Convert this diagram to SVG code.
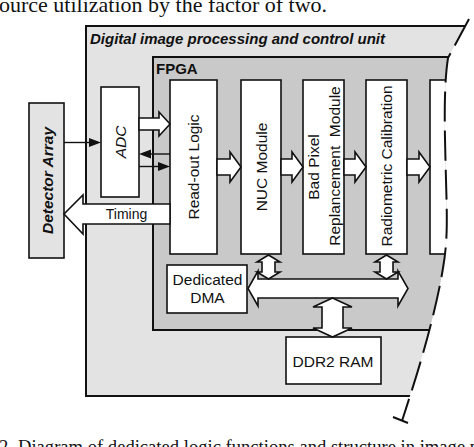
<svg xmlns="http://www.w3.org/2000/svg" width="474" height="447" viewBox="0 0 474 447">
<style>
.lbl{font-family:"Liberation Sans",Arial,sans-serif;font-size:15.5px;fill:#111}
.cap{font-family:"Liberation Serif","Times New Roman",serif;fill:#111}
.box{fill:#fff;stroke:#111;stroke-width:1.6}
.blk{fill:#fff;stroke:#111;stroke-width:1.6;stroke-linejoin:miter}
.thin{stroke:#111;stroke-width:1.4;fill:none}
.head{fill:#111}
</style>
<defs>
<clipPath id="cut">
<path d="M0 0 L469 0 L469 19 L448 58 C443 90 445 140 446 180 C447 215 448 240 443 268 C438 300 425 350 410 396 L402 421 L402 447 L0 447 Z"/>
</clipPath>
</defs>
<rect width="474" height="447" fill="#fff"/>
<text class="cap" x="-1" y="11.5" font-size="22">ource utilization by the factor of two.</text>

<g id="unit" clip-path="url(#cut)">
<rect x="86" y="26" width="420" height="370" fill="#e3e3e3" stroke="#111" stroke-width="2"/>
</g>
<text x="90" y="44" font-family="Liberation Sans,Arial,sans-serif" font-size="15" font-weight="bold" font-style="italic" fill="#111">Digital image processing and control unit</text>

<g id="fpga" clip-path="url(#cut)">
<rect x="153" y="57" width="350" height="273" fill="#c9c9c9" stroke="#111" stroke-width="2"/>
<rect id="next" x="430" y="80" width="60" height="174" class="box"/>
</g>
<text x="156" y="74" font-family="Liberation Sans,Arial,sans-serif" font-size="15" font-weight="bold" fill="#111">FPGA</text>

<g id="detector">
<rect x="29" y="103" width="35" height="155" fill="#e3e3e3" stroke="#111" stroke-width="1.6"/>
<text class="lbl" transform="translate(47,180.5) rotate(-90)" x="0" y="5.5" text-anchor="middle" font-weight="bold" font-style="italic">Detector Array</text>
</g>
<g id="adc">
<rect x="101" y="87" width="38" height="110" class="box"/>
<text class="lbl" transform="translate(120,142) rotate(-90)" x="0" y="5.5" text-anchor="middle" font-style="italic">ADC</text>
</g>
<g id="readout">
<rect x="170" y="80" width="47" height="174" class="box"/>
<text class="lbl" transform="translate(193.5,167) rotate(-90)" x="0" y="5.5" text-anchor="middle">Read-out Logic</text>
</g>
<g id="nuc">
<rect x="241" y="80" width="40" height="174" class="box"/>
<text class="lbl" transform="translate(261,167) rotate(-90)" x="0" y="5.5" text-anchor="middle">NUC Module</text>
</g>
<g id="badpixel">
<rect x="303" y="80" width="41" height="174" class="box"/>
<text class="lbl" transform="translate(313.5,167) rotate(-90)" x="0" y="5.5" text-anchor="middle">Bad Pixel</text>
<text class="lbl" transform="translate(334,166) rotate(-90)" x="0" y="5.5" text-anchor="middle" xml:space="preserve">Replancement  Module</text>
</g>
<g id="radiometric">
<rect x="366" y="80" width="41" height="174" class="box"/>
<text class="lbl" transform="translate(386,166) rotate(-90)" x="0" y="5.5" text-anchor="middle">Radiometric Calibration</text>
</g>
<g id="dma">
<rect x="167" y="265" width="80" height="48" class="box"/>
<text class="lbl" x="207.5" y="285" text-anchor="middle">Dedicated</text>
<text class="lbl" x="207.5" y="303" text-anchor="middle">DMA</text>
</g>
<g id="ddr2">
<rect x="286" y="337" width="95" height="47" class="box"/>
<text class="lbl" x="333" y="367" text-anchor="middle">DDR2 RAM</text>
</g>

<g id="connectors">
<polygon class="blk" points="170,204 83,204 83,195 64,214 83,234 83,224 170,224"/>
<text x="126.5" y="218.5" font-family="Liberation Sans,Arial,sans-serif" font-size="14" text-anchor="middle" fill="#111">Timing</text>
<polygon class="blk" points="139,118 159,118 159,112 170,124 159,136 159,130 139,130"/>
<line class="thin" x1="64" y1="142.5" x2="91" y2="142.5"/>
<polygon class="head" points="101,142.5 89,138 89,147"/>
<line class="thin" x1="170" y1="154" x2="149" y2="154"/>
<polygon class="head" points="139,154 151,149.5 151,158.5"/>
<line class="thin" x1="139" y1="166.5" x2="160" y2="166.5"/>
<polygon class="head" points="170,166.5 158,162 158,171"/>
<polygon class="blk" points="217,159 230,159 230,152 241,167 230,182 230,175 217,175"/>
<polygon class="blk" points="281,159 292,159 292,152 303,167 292,182 292,175 281,175"/>
<polygon class="blk" points="344,159 355,159 355,152 366,167 355,182 355,175 344,175"/>
<polygon class="blk" points="407,159 419,159 419,152 430,167 419,182 419,175 407,175"/>
<polygon class="blk" points="248,288.5 258,271 258,279 398,279 398,271 408,288.5 398,306 398,298 258,298 258,306"/>
<polygon class="blk" points="268.5,255 280,262 275,262 275,272 280,272 268.5,279 257,272 262,272 262,262 257,262"/>
<polygon class="blk" points="386.5,255 398,262 393,262 393,272 398,272 386.5,279 375,272 380,272 380,262 375,262"/>
<polygon class="blk" points="332.5,298 352,307 343,307 343,328 352,328 332.5,337 313,328 322,328 322,307 313,307"/>
</g>

<g id="cutline" fill="none" stroke="#111" stroke-width="2">
<path d="M469 19 L448 58 C443 90 445 140 446 180 C447 215 448 240 443 268 C438 300 425 350 410 396 L402 421" stroke-dasharray="30 9"/>
<line x1="393" y1="417" x2="408" y2="423"/>
</g>

<text class="cap" x="-1" y="452.5" font-size="18.6">2.<tspan x="18">Diagram of dedicated logic functions and structure in image p</tspan></text>
</svg>
